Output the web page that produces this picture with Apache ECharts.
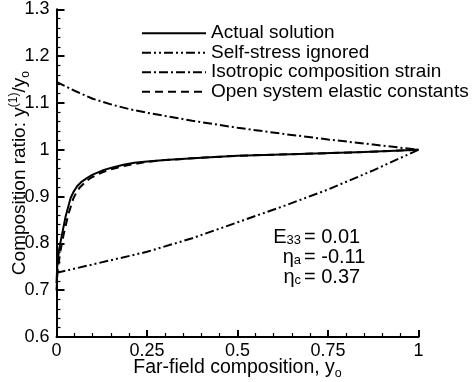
<!DOCTYPE html>
<html>
<head>
<meta charset="utf-8">
<script src="https://cdn.jsdelivr.net/npm/echarts@6/dist/echarts.min.js"></script>
<style>
html,body{margin:0;padding:0;background:#fff;}
#chart{width:474px;height:382px;}
</style>
</head>
<body>
<div id="chart"></div>
<script>
var FONT = '"Liberation Sans", Arial, Helvetica, sans-serif';

var seriesNames = ['Actual solution', 'Self-stress ignored', 'Isotropic composition strain', 'Open system elastic constants'];

var actualX = [0, 0.002, 0.007, 0.016, 0.025, 0.039, 0.047, 0.057, 0.07, 0.085, 0.1, 0.131, 0.155, 0.185, 0.215, 0.25, 0.3, 0.4, 0.5, 0.67, 0.85, 1.0];
var actualY = [0.715, 0.75, 0.786, 0.822, 0.857, 0.897, 0.910, 0.922, 0.932, 0.940, 0.947, 0.957, 0.962, 0.968, 0.972, 0.975, 0.978, 0.983, 0.987, 0.991, 0.995, 1.0];

var selfStressX = [0, 0.1, 0.25, 0.375, 0.5, 0.625, 0.75, 0.875, 1.0];
var selfStressY = [0.737, 0.755, 0.782, 0.811, 0.845, 0.879, 0.915, 0.956, 1.0];

var isotropicX = [0, 0.05, 0.1, 0.15, 0.2, 0.25, 0.375, 0.5, 0.625, 0.75, 0.875, 1.0];
var isotropicY = [1.145, 1.126, 1.109, 1.097, 1.087, 1.079, 1.062, 1.047, 1.034, 1.022, 1.011, 1.0];

var openX = [0, 0.003, 0.01, 0.02, 0.032, 0.046, 0.055, 0.065, 0.08, 0.095, 0.115, 0.14, 0.165, 0.19, 0.22, 0.25, 0.3, 0.4, 0.5, 0.67, 0.85, 1.0];
var openY = [0.70, 0.74, 0.78, 0.82, 0.86, 0.895, 0.909, 0.92, 0.931, 0.94, 0.948, 0.956, 0.961, 0.966, 0.970, 0.974, 0.978, 0.983, 0.987, 0.991, 0.995, 1.0];

var xTicks = [0, 0.25, 0.5, 0.75, 1];
var yTicks = [0.6, 0.7, 0.8, 0.9, 1.0, 1.1, 1.2, 1.3];

var paramNames = ['E{s|33}', '\u03b7{s|a}', '\u03b7{s|c}'];
var paramValues = ['= 0.01', '= -0.11', '= 0.37'];

function zip(xs, ys) { return xs.map(function (x, i) { return [x, ys[i]]; }); }

var dashes = {
  solid: 'solid',
  dashDotDot: [9, 3, 2, 3, 2, 3],
  dashDot: [9, 3, 2, 3],
  dashed: [8, 5]
};

function lineSeries(name, data, type) {
  return {
    name: name, type: 'line', data: data, symbol: 'none', showSymbol: false,
    smooth: false, silent: true, animation: false,
    lineStyle: { color: '#000', width: 2, type: type }
  };
}

var chart = echarts.init(document.getElementById('chart'), null, { renderer: 'canvas' });

var graphics = [];
paramNames.forEach(function (n, i) {
  var y = 237 + i * 20;
  graphics.push({
    type: 'text',
    x: 301, y: y,
    style: {
      text: n, font: '20px ' + FONT, fill: '#000',
      textAlign: 'right', verticalAlign: 'middle', textVerticalAlign: 'middle',
      rich: { s: { fontSize: 13, fontFamily: FONT, verticalAlign: 'bottom', lineHeight: 14, padding: [12, 0, 0, 0] } }
    }
  });
  graphics.push({
    type: 'text',
    x: 304, y: y,
    style: {
      text: paramValues[i], font: '20px ' + FONT, fill: '#000',
      textAlign: 'left', verticalAlign: 'middle', textVerticalAlign: 'middle'
    }
  });
});

var option = {
  animation: false,
  backgroundColor: '#fff',
  textStyle: { fontFamily: FONT, color: '#000' },
  grid: { left: 56.5, right: 55.5, top: 9.3, bottom: 45, containLabel: false, outerBoundsMode: 'none' },
  legend: {
    data: seriesNames,
    orient: 'vertical',
    left: 136, top: 18.5,
    itemWidth: 64, itemHeight: 14, itemGap: 0,
    itemStyle: { opacity: 0 },
    textStyle: { fontSize: 19, fontFamily: FONT, color: '#000', lineHeight: 19.5 },
    selectedMode: false
  },
  xAxis: {
    type: 'value', min: xTicks[0], max: xTicks[xTicks.length - 1], interval: 0.25,
    name: '{n|Far-field composition, y}{sub|o}',
    nameLocation: 'middle', nameGap: 19, nameMoveOverlap: false,
    nameTextStyle: {
      fontSize: 19.5, fontFamily: FONT, color: '#000',
      rich: {
        n: { fontSize: 19.5, fontFamily: FONT, color: '#000', lineHeight: 24 },
        sub: { fontSize: 12.5, fontFamily: FONT, color: '#000', lineHeight: 12, verticalAlign: 'bottom' }
      }
    },
    splitLine: { show: false },
    axisLine: { lineStyle: { color: '#000', width: 2 } },
    axisTick: { inside: true, length: 7, lineStyle: { color: '#000', width: 2 } },
    minorTick: { show: true, splitNumber: 5, length: 4, lineStyle: { color: '#000', width: 1.2 } },
    axisLabel: { fontSize: 18, fontFamily: FONT, color: '#000', margin: 5 }
  },
  yAxis: {
    type: 'value', min: yTicks[0], max: yTicks[yTicks.length - 1], interval: 0.1,
    name: '{n|Composition ratio: y}{sup|(1)}{n|/y}{sub|o}',
    nameLocation: 'middle', nameGap: 25, nameRotate: 90, nameMoveOverlap: false,
    nameTextStyle: {
      fontSize: 19, fontFamily: FONT, color: '#000',
      rich: {
        n: { fontSize: 19, fontFamily: FONT, color: '#000', lineHeight: 24 },
        sup: { fontSize: 12, fontFamily: FONT, color: '#000', lineHeight: 12, verticalAlign: 'top' },
        sub: { fontSize: 12, fontFamily: FONT, color: '#000', lineHeight: 12, verticalAlign: 'bottom' }
      }
    },
    splitLine: { show: false },
    axisLine: { lineStyle: { color: '#000', width: 2 } },
    axisTick: { inside: true, length: 8, lineStyle: { color: '#000', width: 2 } },
    minorTick: { show: true, splitNumber: 5, length: 4, lineStyle: { color: '#000', width: 1.2 } },
    axisLabel: { fontSize: 18, fontFamily: FONT, color: '#000', margin: 7 }
  },
  graphic: graphics,
  series: [
    lineSeries(seriesNames[0], zip(actualX, actualY), dashes.solid),
    lineSeries(seriesNames[1], zip(selfStressX, selfStressY), dashes.dashDotDot),
    lineSeries(seriesNames[2], zip(isotropicX, isotropicY), dashes.dashDot),
    lineSeries(seriesNames[3], zip(openX, openY), dashes.dashed)
  ]
};

chart.setOption(option);
</script>
</body>
</html>
